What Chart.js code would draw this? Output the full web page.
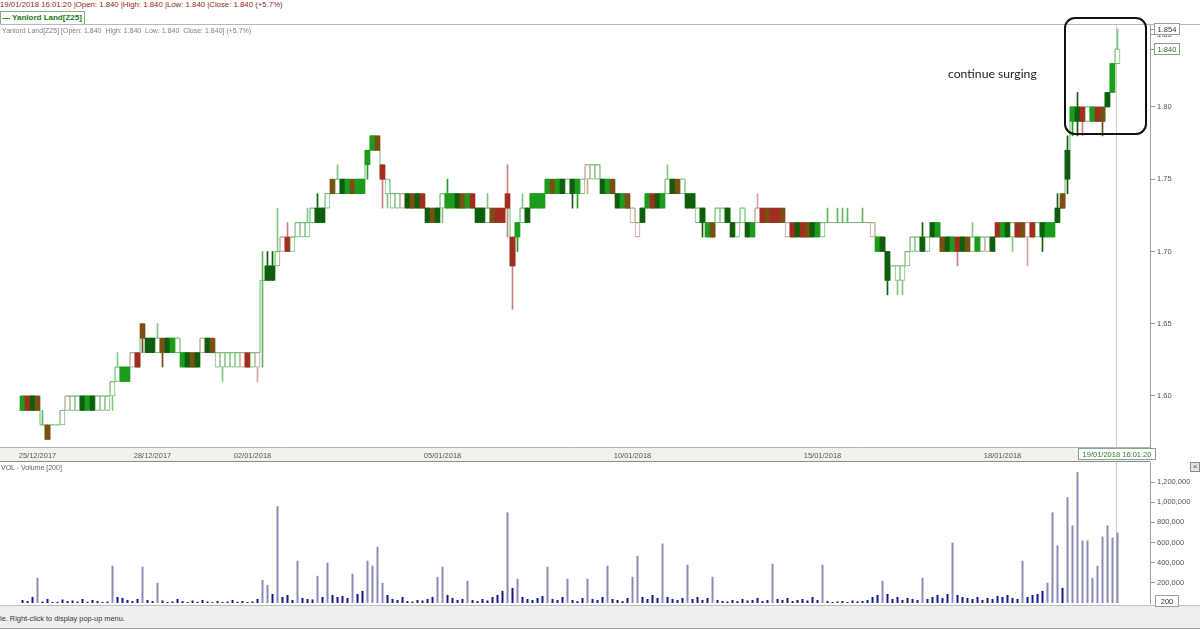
<!DOCTYPE html>
<html>
<head>
<meta charset="utf-8">
<script src="https://cdn.jsdelivr.net/npm/chart.js@4.4.1/dist/chart.umd.min.js"></script>
<style>
  body { margin: 0; width: 1200px; height: 630px; overflow: hidden; background: #fff; position: relative;
         font-family: "Liberation Sans", Arial, sans-serif; }
  .abs { position: absolute; white-space: nowrap; }
  #hdr { left: 0; top: 0; font-size: 7.8px; color: #8e2626; line-height: 10px; }
  #legendBox { left: 0; top: 11px; height: 12px; width: 82px; border: 1px solid #86b286; font-size: 8px;
               font-weight: bold; color: #177a17; line-height: 12px; padding-left: 1px; }
  #topLine { left: 0; top: 24px; width: 1200px; height: 1px; background: #b8b8b8; }
  #innerTxt { left: 2px; top: 26px; font-size: 7px; color: #808080; line-height: 9px; }
  #xRow { left: 0; top: 447px; width: 1150px; height: 14px; background: #f2f2ec; }
  #xRowLine { left: 0; top: 461px; width: 1150px; height: 1px; background: #8c8c8c; }
  #volTxt { left: 1px; top: 463px; font-size: 7px; color: #606060; line-height: 9px; }
  #closeX { left: 1190px; top: 462px; width: 8px; height: 8px; border: 1px solid #8a8a8a; background: #e4e4e4;
            font-size: 8px; line-height: 8px; text-align: center; color: #555; }
  #status { left: 0; top: 605px; width: 1200px; height: 22px; background: #efefef; border-top: 1px solid #bdbdbd;
            border-bottom: 1px solid #9e9e9e; }
  #statusTxt { left: 0; top: 614px; font-size: 7.4px; color: #333; line-height: 9px; }
  #note { left: 948px; top: 66px; font-family: Lato, "Open Sans", sans-serif; font-size: 12.2px; color: #222; }
  #ring { left: 1064px; top: 17px; width: 79px; height: 114px; border: 2px solid #111; border-radius: 11px; }
  #priceWrap { left: 0; top: 15px; width: 1200px; height: 447px; }
  #volWrap { left: 0; top: 462px; width: 1200px; height: 146px; }
</style>
</head>
<body>
<div class="abs" id="hdr">19/01/2018 16:01:20 |Open: 1.840 |High: 1.840 |Low: 1.840 |Close: 1.840 (+5.7%)</div>
<div class="abs" id="legendBox">— Yanlord Land[Z25]</div>
<div class="abs" id="topLine"></div>
<div class="abs" id="xRow"></div>
<div class="abs" id="xRowLine"></div>
<div class="abs" id="status"></div>
<div class="abs" id="priceWrap"><canvas id="priceChart" width="1200" height="447"></canvas></div>
<div class="abs" id="volWrap"><canvas id="volChart" width="1200" height="146"></canvas></div>
<div class="abs" id="innerTxt">Yanlord Land[Z25] [Open: 1.840&nbsp; High: 1.840&nbsp; Low: 1.840&nbsp; Close: 1.840] (+5.7%)</div>
<div class="abs" id="volTxt">VOL - Volume [200]</div>
<div class="abs" id="closeX">×</div>
<div class="abs" id="statusTxt">le. Right-click to display pop-up menu.</div>
<div class="abs" id="note">continue surging</div>
<div class="abs" id="ring"></div>

<script>
// intraday bars, one slot per bar, first and last slots left empty
const opens = [null,null,null,null,
  1.59,1.60,1.59,1.60,1.59,1.58,1.58,1.58,1.58,1.59,
  1.59,1.59,1.59,1.59,1.59,1.59,1.59,1.59,1.60,1.61,
  1.61,1.61,1.62,1.63,1.65,1.63,1.63,1.63,1.64,1.63,
  1.63,1.63,1.62,1.62,1.63,1.62,1.63,1.63,1.64,1.62,
  1.62,1.62,1.62,1.62,1.62,1.63,1.62,1.62,1.62,1.68,
  1.68,1.69,1.70,1.71,1.70,1.71,1.71,1.71,1.72,1.72,
  1.72,1.73,1.75,1.74,1.74,1.74,1.75,1.74,1.74,1.76,
  1.77,1.78,1.76,1.74,1.73,1.73,1.73,1.73,1.74,1.73,
  1.74,1.72,1.73,1.72,1.73,1.73,1.73,1.73,1.74,1.73,
  1.74,1.72,1.72,1.72,1.73,1.73,1.73,1.74,1.71,1.71,
  1.72,1.72,1.73,1.73,1.73,1.74,1.75,1.74,1.74,1.74,
  1.74,1.74,1.74,1.75,1.75,1.75,1.74,1.74,1.75,1.73,
  1.73,1.74,1.72,1.71,1.72,1.73,1.74,1.73,1.73,1.74,
  1.74,1.75,1.74,1.73,1.73,1.72,1.72,1.71,1.72,1.72,
  1.72,1.72,1.71,1.71,1.72,1.71,1.71,1.72,1.73,1.73,
  1.73,1.73,1.73,1.71,1.72,1.71,1.72,1.72,1.71,1.71,
  1.71,1.72,1.72,1.72,1.72,1.72,1.72,1.72,1.72,1.72,
  1.71,1.70,1.70,1.70,1.69,1.68,1.68,1.69,1.70,1.70,
  1.70,1.70,1.71,1.71,1.71,1.70,1.70,1.71,1.70,1.71,
  1.70,1.70,1.70,1.70,1.70,1.72,1.71,1.71,1.71,1.72,
  1.72,1.71,1.72,1.71,1.71,1.71,1.71,1.72,1.74,1.75,
  1.79,1.79,1.80,1.79,1.79,1.80,1.80,1.80,1.81,1.83,
  null,null,null,null,null,null];

const closes = [null,null,null,null,
  1.60,1.59,1.60,1.59,1.58,1.57,1.58,1.58,1.59,1.60,
  1.60,1.60,1.60,1.60,1.60,1.60,1.60,1.60,1.61,1.62,
  1.62,1.62,1.63,1.62,1.64,1.64,1.64,1.64,1.63,1.64,
  1.64,1.64,1.63,1.63,1.62,1.63,1.64,1.64,1.63,1.63,
  1.63,1.63,1.63,1.63,1.63,1.62,1.63,1.63,1.68,1.69,
  1.69,1.70,1.71,1.70,1.71,1.72,1.72,1.72,1.73,1.73,
  1.73,1.74,1.74,1.75,1.75,1.75,1.74,1.75,1.75,1.77,
  1.78,1.77,1.75,1.75,1.74,1.74,1.74,1.74,1.73,1.74,
  1.73,1.73,1.72,1.73,1.74,1.74,1.74,1.74,1.73,1.74,
  1.73,1.73,1.73,1.73,1.72,1.72,1.72,1.73,1.69,1.72,
  1.73,1.73,1.74,1.74,1.74,1.75,1.74,1.75,1.75,1.75,
  1.75,1.75,1.75,1.76,1.76,1.76,1.75,1.75,1.74,1.74,
  1.74,1.73,1.73,1.72,1.73,1.74,1.73,1.74,1.74,1.75,
  1.75,1.74,1.75,1.74,1.74,1.73,1.73,1.72,1.71,1.73,
  1.73,1.73,1.72,1.72,1.73,1.72,1.72,1.73,1.72,1.72,
  1.72,1.72,1.72,1.72,1.71,1.72,1.71,1.71,1.72,1.72,
  1.72,1.72,1.72,1.72,1.72,1.72,1.72,1.72,1.72,1.72,
  1.72,1.71,1.71,1.68,1.69,1.69,1.69,1.70,1.71,1.71,
  1.71,1.71,1.72,1.72,1.70,1.71,1.71,1.70,1.71,1.70,
  1.71,1.71,1.71,1.71,1.71,1.71,1.72,1.72,1.72,1.71,
  1.71,1.72,1.71,1.72,1.72,1.72,1.72,1.73,1.73,1.77,
  1.80,1.80,1.79,1.80,1.80,1.79,1.79,1.81,1.83,1.84,
  null,null,null,null,null,null];

const highs = [null,null,null,null,
  1.60,1.60,1.60,1.60,1.59,1.58,1.58,1.58,1.59,1.60,
  1.60,1.60,1.60,1.60,1.60,1.60,1.60,1.60,1.61,1.63,
  1.62,1.62,1.63,1.63,1.65,1.64,1.64,1.65,1.64,1.64,
  1.64,1.64,1.63,1.63,1.63,1.63,1.64,1.64,1.64,1.63,
  1.63,1.63,1.63,1.63,1.63,1.63,1.63,1.63,1.70,1.70,
  1.70,1.73,1.71,1.72,1.71,1.72,1.72,1.73,1.73,1.74,
  1.73,1.74,1.75,1.76,1.75,1.75,1.75,1.75,1.75,1.77,
  1.78,1.78,1.76,1.75,1.74,1.74,1.74,1.74,1.74,1.74,
  1.74,1.73,1.73,1.73,1.74,1.75,1.74,1.74,1.74,1.74,
  1.74,1.73,1.73,1.74,1.73,1.73,1.73,1.76,1.71,1.72,
  1.74,1.73,1.74,1.74,1.74,1.75,1.75,1.75,1.75,1.75,
  1.75,1.75,1.75,1.76,1.76,1.76,1.75,1.75,1.75,1.74,
  1.74,1.74,1.73,1.72,1.73,1.74,1.74,1.74,1.74,1.76,
  1.75,1.75,1.75,1.74,1.74,1.73,1.73,1.72,1.72,1.73,
  1.73,1.73,1.72,1.72,1.73,1.72,1.72,1.74,1.73,1.73,
  1.73,1.73,1.73,1.72,1.72,1.72,1.72,1.72,1.72,1.72,
  1.72,1.73,1.72,1.73,1.73,1.73,1.72,1.72,1.73,1.72,
  1.72,1.71,1.71,1.70,1.69,1.69,1.69,1.70,1.71,1.71,
  1.72,1.71,1.72,1.72,1.71,1.71,1.71,1.71,1.71,1.71,
  1.72,1.71,1.71,1.71,1.71,1.72,1.72,1.72,1.72,1.72,
  1.72,1.72,1.72,1.72,1.72,1.72,1.72,1.74,1.74,1.78,
  1.80,1.81,1.80,1.80,1.80,1.80,1.80,1.81,1.83,1.854,
  null,null,null,null,null,null];

const lows = [null,null,null,null,
  1.59,1.59,1.59,1.59,1.58,1.57,1.58,1.58,1.58,1.59,
  1.59,1.59,1.59,1.59,1.59,1.59,1.59,1.59,1.59,1.61,
  1.61,1.61,1.62,1.62,1.63,1.63,1.63,1.63,1.62,1.63,
  1.63,1.63,1.62,1.62,1.62,1.62,1.63,1.63,1.63,1.62,
  1.61,1.62,1.62,1.62,1.62,1.62,1.62,1.61,1.62,1.68,
  1.68,1.69,1.70,1.70,1.70,1.71,1.71,1.71,1.72,1.72,
  1.72,1.73,1.74,1.74,1.74,1.74,1.74,1.74,1.74,1.75,
  1.77,1.77,1.73,1.73,1.73,1.73,1.73,1.73,1.73,1.73,
  1.73,1.72,1.72,1.72,1.72,1.73,1.73,1.73,1.73,1.73,
  1.73,1.72,1.72,1.72,1.72,1.72,1.72,1.71,1.66,1.70,
  1.72,1.72,1.73,1.73,1.73,1.74,1.74,1.74,1.74,1.74,
  1.73,1.73,1.74,1.74,1.75,1.75,1.74,1.74,1.74,1.73,
  1.73,1.73,1.72,1.71,1.72,1.73,1.73,1.73,1.73,1.74,
  1.74,1.74,1.74,1.73,1.73,1.72,1.71,1.71,1.71,1.72,
  1.72,1.72,1.71,1.71,1.72,1.71,1.71,1.72,1.72,1.72,
  1.72,1.72,1.72,1.71,1.71,1.71,1.71,1.71,1.71,1.71,
  1.71,1.72,1.72,1.72,1.72,1.72,1.72,1.72,1.72,1.72,
  1.71,1.70,1.70,1.67,1.69,1.67,1.67,1.69,1.70,1.70,
  1.70,1.70,1.71,1.71,1.70,1.70,1.70,1.69,1.70,1.70,
  1.70,1.70,1.70,1.70,1.70,1.71,1.71,1.71,1.70,1.71,
  1.71,1.69,1.71,1.71,1.70,1.71,1.71,1.72,1.73,1.74,
  1.78,1.78,1.78,1.79,1.79,1.79,1.78,1.80,1.81,1.83,
  null,null,null,null,null,null];

// g bright green, d dark green, b brown, r red, w hollow green, p hollow pink, n line only
const shades =
  '....' +
  'grdbnbnnwp' + 'wwdgdwwwww' + 'ggprbddwbd' + 'gwgdbdpdbw' + 'wwwwprwpnd' +
  'dwprwwwwwd' + 'dwbwdgbggg' + 'gbrwwwpdbd' + 'rdbdwggdbg' + 'rddwbrrrrg' +
  'wdggggbgdw' + 'dgwpwwdgbd' + 'gbppdgrdgw' + 'dbwddwdgbw' + 'wddwwdgprb' +
  'rrbprdrbdg' + 'wnnnnnnnnn' + 'pgddnwwwww' + 'dwdgbdgrdb' + 'wgwpdrgdwr' +
  'bprwdggdbd' + 'gdrwgrbdgw' +
  '......';

const volumes = [null,null,null,null,
  30000,20000,60000,250000,15000,40000,10000,12000,35000,20000,
  25000,15000,40000,12000,30000,20000,10000,15000,370000,60000,
  50000,30000,20000,40000,360000,30000,20000,200000,25000,10000,
  15000,40000,20000,10000,25000,12000,30000,15000,8000,20000,
  10000,15000,30000,12000,20000,10000,15000,40000,230000,180000,
  90000,960000,60000,80000,30000,420000,50000,40000,35000,270000,
  60000,400000,80000,60000,70000,50000,290000,90000,120000,420000,
  370000,560000,200000,80000,40000,30000,60000,20000,15000,30000,
  25000,40000,60000,260000,360000,80000,50000,30000,40000,220000,
  30000,20000,40000,25000,60000,80000,120000,900000,150000,240000,
  60000,40000,30000,50000,70000,360000,40000,30000,60000,240000,
  30000,20000,50000,240000,40000,30000,60000,370000,40000,30000,
  20000,50000,260000,470000,60000,40000,80000,50000,590000,60000,
  40000,30000,50000,380000,40000,60000,30000,50000,260000,30000,
  20000,15000,30000,20000,40000,25000,30000,50000,20000,30000,
  390000,40000,30000,50000,20000,30000,40000,25000,60000,30000,
  380000,20000,10000,15000,20000,10000,25000,15000,20000,30000,
  60000,80000,220000,90000,40000,60000,30000,50000,40000,30000,
  250000,40000,60000,80000,50000,90000,600000,80000,60000,50000,
  40000,60000,30000,50000,40000,70000,60000,80000,50000,40000,
  420000,60000,80000,90000,120000,200000,900000,570000,150000,1050000,
  770000,1300000,620000,620000,250000,370000,660000,770000,650000,700000,
  null,null,null,null,null,null];

const tickIndex = [7, 30, 50, 88, 126, 164, 200];
const tickText = ['25/12/2017', '28/12/2017', '02/01/2018', '05/01/2018', '10/01/2018', '15/01/2018', '18/01/2018'];
const lastIdx = 223;
const lastStamp = '19/01/2018 16:01:20';
const lastVolume = 200;

const labels = opens.map(() => '');
tickIndex.forEach((k, j) => { labels[k] = tickText[j]; });

const fillOf = { g: '#1c9c1c', d: '#0e5e0e', b: '#7a4e14', r: '#a42c1e', w: '#ffffff', p: '#ffffff', n: 'rgba(0,0,0,0)' };
const edgeOf = { g: '#1c9c1c', d: '#0e5e0e', b: '#7a4e14', r: '#a42c1e', w: '#78c078', p: '#d59a9a', n: 'rgba(0,0,0,0)' };
const wickOf = { g: '#2a9a2a', d: '#0e5e0e', b: '#6a4814', r: '#c98080', w: '#84c484', p: '#d8a2a2', n: '#62b462' };

Chart.defaults.font.family = '"Liberation Sans", Arial, sans-serif';
Chart.defaults.animation = false;

const bodyData = opens.map((o, i) => o === null ? null : [o, closes[i]]);
const wickData = lows.map((l, i) => l === null ? null : [l, highs[i]]);

function tag(ctx, text, x, y, w, edge, ink) {
    ctx.save();
    ctx.fillStyle = '#ffffff';
    ctx.strokeStyle = edge;
    ctx.lineWidth = 1;
    ctx.fillRect(x + 0.5, y - 5.5, w, 11);
    ctx.strokeRect(x + 0.5, y - 5.5, w, 11);
    ctx.fillStyle = ink;
    ctx.font = '7.5px "Liberation Sans", Arial, sans-serif';
    ctx.textBaseline = 'middle';
    ctx.textAlign = 'center';
    ctx.fillText(text, x + 0.5 + w / 2, y + 0.5);
    ctx.restore();
}

const cursorLine = {
    id: 'cursorLine',
    beforeDatasetsDraw(chart) {
        const x = Math.round(chart.scales.x.getPixelForValue(lastIdx)) - 1.5;
        const a = chart.chartArea;
        const c = chart.ctx;
        c.save();
        c.strokeStyle = '#cdcdcd';
        c.lineWidth = 1;
        c.beginPath();
        c.moveTo(x, a.top);
        c.lineTo(x, a.bottom);
        c.stroke();
        c.restore();
    }
};

const priceTags = {
    id: 'priceTags',
    afterDraw(chart) {
        const c = chart.ctx;
        const ys = chart.scales.y;
        const a = chart.chartArea;
        const hiY = Math.round(ys.getPixelForValue(highs[lastIdx]));
        const lastY = Math.round(ys.getPixelForValue(closes[lastIdx]));
        c.save();
        c.strokeStyle = '#999';
        c.beginPath();
        c.moveTo(a.right, hiY + 0.5); c.lineTo(a.right + 4, hiY + 0.5);
        c.moveTo(a.right, lastY + 0.5); c.lineTo(a.right + 4, lastY + 0.5);
        c.stroke();
        c.restore();
        tag(c, highs[lastIdx].toFixed(3), a.right + 4, hiY, 25, '#9c9c9c', '#333');
        tag(c, closes[lastIdx].toFixed(3), a.right + 4, lastY, 25, '#7fa57f', '#2a6a2a');
        const x = Math.round(chart.scales.x.getPixelForValue(lastIdx)) - 1;
        tag(c, lastStamp, x - 39, a.bottom + 7, 77, '#86a886', '#2f7a2f');
    }
};

const volTag = {
    id: 'volTag',
    afterDraw(chart) {
        const a = chart.chartArea;
        const y = Math.round(chart.scales.y.getPixelForValue(lastVolume)) - 2;
        tag(chart.ctx, String(lastVolume), a.right + 5, y, 23, '#9c9c9c', '#333');
    }
};

const tickFont = { size: 7.5 };

new Chart(document.getElementById('priceChart'), {
    type: 'bar',
    data: {
        labels: labels,
        datasets: [
            {
                type: 'bar',
                data: bodyData,
                order: 0,
                grouped: false,
                barPercentage: 1,
                categoryPercentage: 1,
                borderSkipped: false,
                backgroundColor: ctx => fillOf[shades[ctx.dataIndex]] || 'rgba(0,0,0,0)',
                borderColor: ctx => edgeOf[shades[ctx.dataIndex]] || 'rgba(0,0,0,0)',
                borderWidth: ctx => (shades[ctx.dataIndex] === 'w' || shades[ctx.dataIndex] === 'p') ? 1 : 0
            },
            {
                type: 'line',
                data: closes,
                order: 1,
                stepped: 'middle',
                borderColor: '#6cbc6c',
                borderWidth: 1,
                pointRadius: 0,
                spanGaps: false
            },
            {
                type: 'bar',
                data: wickData,
                order: 2,
                grouped: false,
                barThickness: 1,
                backgroundColor: ctx => wickOf[shades[ctx.dataIndex]] || 'rgba(0,0,0,0)'
            }
        ]
    },
    options: {
        responsive: false,
        devicePixelRatio: 1,
        layout: { padding: { top: 10, left: 0, right: 0, bottom: 0 } },
        plugins: { legend: { display: false }, tooltip: { enabled: false } },
        scales: {
            x: {
                type: 'category',
                offset: true,
                ticks: {
                    autoSkip: false, maxRotation: 0, minRotation: 0, padding: 1,
                    font: tickFont, color: '#555',
                    callback: (v, i) => labels[i] || null
                },
                grid: {
                    offset: false, drawOnChartArea: false, drawTicks: true, tickLength: 3,
                    color: ctx => labels[ctx.index] ? '#9a9a9a' : 'rgba(0,0,0,0)'
                },
                border: { display: true, color: '#b4b4b4' },
                afterFit: s => { s.height = 15; s.paddingLeft = 0; s.paddingRight = 0; }
            },
            y: {
                position: 'right',
                min: 1.5647,
                max: 1.8567,
                ticks: {
                    stepSize: 0.05, includeBounds: false, padding: 2,
                    font: tickFont, color: '#555',
                    callback: v => v.toFixed(2)
                },
                grid: { drawOnChartArea: false, tickLength: 5, color: '#9a9a9a' },
                border: { display: true, color: '#a0a0a0' },
                afterFit: s => { s.width = 50; s.paddingTop = 0; s.paddingBottom = 0; }
            }
        }
    },
    plugins: [cursorLine, priceTags]
});

new Chart(document.getElementById('volChart'), {
    type: 'bar',
    data: {
        labels: labels,
        datasets: [{
            data: volumes,
            barPercentage: 0.4,
            categoryPercentage: 1,
            backgroundColor: ctx => (volumes[ctx.dataIndex] > 150000 ? '#8a8ab6' : '#16168a')
        }]
    },
    options: {
        responsive: false,
        devicePixelRatio: 1,
        layout: { padding: { top: 0, left: 0, right: 0, bottom: 5 } },
        plugins: { legend: { display: false }, tooltip: { enabled: false } },
        scales: {
            x: { type: 'category', offset: true, display: false },
            y: {
                position: 'right',
                min: 0,
                max: 1400000,
                ticks: {
                    stepSize: 200000, padding: 2,
                    font: tickFont, color: '#555',
                    callback: v => (v === 0 || v >= 1400000) ? null : v.toLocaleString('en-US')
                },
                grid: {
                    drawOnChartArea: false, tickLength: 5,
                    color: ctx => (ctx.tick && ctx.tick.value > 0 && ctx.tick.value < 1400000) ? '#9a9a9a' : 'rgba(0,0,0,0)'
                },
                border: { display: true, color: '#a0a0a0' },
                afterFit: s => { s.width = 50; s.paddingTop = 0; s.paddingBottom = 0; }
            }
        }
    },
    plugins: [cursorLine, volTag]
});
</script>
</body>
</html>
